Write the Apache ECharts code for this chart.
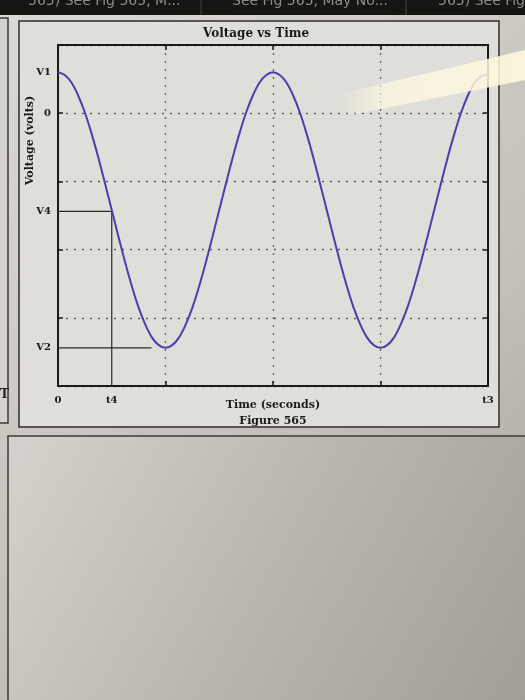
<!DOCTYPE html>
<html>
<head>
<meta charset="utf-8">
<script src="https://cdn.jsdelivr.net/npm/echarts@6/dist/echarts.min.js"></script>
<style>
html,body{margin:0;padding:0;background:#cfcdc7;}
#chart{width:525px;height:700px;}
</style>
</head>
<body>
<div id="chart"></div>
<script>
// ---- data ----
const timeValues = [
  0,0.0625,0.125,0.1875,0.25,0.3125,0.375,0.4375,0.5,0.5625,0.625,0.6875,0.75,0.8125,0.875,0.9375,
  1,1.0625,1.125,1.1875,1.25,1.3125,1.375,1.4375,1.5,1.5625,1.625,1.6875,1.75,1.8125,1.875,1.9375,
  2,2.0625,2.125,2.1875,2.25,2.3125,2.375,2.4375,2.5,2.5625,2.625,2.6875,2.75,2.8125,2.875,2.9375,
  3,3.0625,3.125,3.1875,3.25,3.3125,3.375,3.4375,3.5,3.5625,3.625,3.6875,3.75,3.8125,3.875,3.9375,4];
const voltageValues = [
  0.60,0.56,0.45,0.26,0.01,-0.30,-0.65,-1.03,-1.42,-1.81,-2.19,-2.54,-2.85,-3.10,-3.29,-3.40,
  -3.44,-3.40,-3.29,-3.10,-2.85,-2.54,-2.19,-1.81,-1.42,-1.03,-0.65,-0.30,0.01,0.26,0.45,0.56,
  0.60,0.56,0.45,0.26,0.01,-0.30,-0.65,-1.03,-1.42,-1.81,-2.19,-2.54,-2.85,-3.10,-3.29,-3.40,
  -3.44,-3.40,-3.29,-3.10,-2.85,-2.54,-2.19,-1.81,-1.42,-1.03,-0.65,-0.30,0.01,0.26,0.45,0.54,0.57];
const yTickValues = [0.60, 0, -1.44, -3.44];
const yTickLabels = ['V1', '0', 'V4', 'V2'];
const xTickValues = [0, 0.5, 4];
const xTickLabels = ['0', 't4', 't3'];
const v4LineX = [0, 0.5];
const v4LineY = [-1.44, -1.44];
const t4LineX = [0.5, 0.5];
const t4LineY = [-1.44, -4];
const v2LineX = [0, 0.87];
const v2LineY = [-3.44, -3.44];

const zip = (a, b) => a.map((v, i) => [v, b[i]]);
const serif = 'DejaVu Serif';
const gridLine = {show: true, lineStyle: {color: '#5e5e5a', type: [2, 6], width: 1.3}};
const axisLineStyle = {show: true, onZero: false, lineStyle: {color: '#1a1a1a', width: 2}};

const chart = echarts.init(document.getElementById('chart'));
chart.setOption({
  backgroundColor: 'transparent',
  animation: false,
  title: {
    text: 'Voltage vs Time',
    left: 198, top: 23,
    textStyle: {fontFamily: serif, fontWeight: 'bold', fontSize: 12, color: '#1a1a1a'}
  },
  graphic: [
    {type: 'rect', z: -10, shape: {x: 0, y: 0, width: 525, height: 700},
      style: {fill: new echarts.graphic.LinearGradient(0, 0, 1, 1, [
        {offset: 0, color: '#dcdad4'}, {offset: 0.6, color: '#c3c0b9'}, {offset: 1, color: '#a4a199'}])}},
    {type: 'rect', z: -9, shape: {x: 8, y: 436, width: 530, height: 300},
      style: {fill: new echarts.graphic.LinearGradient(0, 0, 1, 1, [
        {offset: 0, color: '#d4d2cc'}, {offset: 0.5, color: '#b9b5ad'}, {offset: 1, color: '#a09c95'}]),
        stroke: '#3a3a3a', lineWidth: 1.5}},
    {type: 'rect', z: -9, shape: {x: -10, y: 18, width: 18, height: 405},
      style: {fill: '#d4d2cc', stroke: '#3a3a3a', lineWidth: 1.5}},
    {type: 'text', z: -8, left: 0, top: 389,
      style: {text: 'T', font: 'bold 12px "DejaVu Serif"', fill: '#222'}},
    {type: 'rect', z: -9, shape: {x: 19, y: 21, width: 480, height: 406},
      style: {fill: '#dfded8', stroke: '#2e2e2e', lineWidth: 1.5}},
    {type: 'rect', z: -8, shape: {x: 0, y: 0, width: 525, height: 15},
      style: {fill: '#151513'}},
    {type: 'line', z: -7, shape: {x1: 201, y1: 0, x2: 201, y2: 15}, style: {stroke: '#444', lineWidth: 1}},
    {type: 'line', z: -7, shape: {x1: 406, y1: 0, x2: 406, y2: 15}, style: {stroke: '#444', lineWidth: 1}},
    {type: 'text', z: -7, left: 28, top: -6,
      style: {text: '565) See Fig 565, M...', font: '14px "DejaVu Sans"', fill: '#8d8c88'}},
    {type: 'text', z: -7, left: 232, top: -6,
      style: {text: 'See Fig 565, May No...', font: '14px "DejaVu Sans"', fill: '#8d8c88'}},
    {type: 'text', z: -7, left: 438, top: -6,
      style: {text: '565) See Fig', font: '14px "DejaVu Sans"', fill: '#8d8c88'}},
    {type: 'polygon', z: 100, silent: true,
      shape: {points: [[340, 94], [525, 50], [525, 80], [346, 116]]},
      style: {fill: new echarts.graphic.LinearGradient(0, 0, 1, 0, [
        {offset: 0, color: 'rgba(255,252,230,0)'}, {offset: 0.25, color: 'rgba(255,250,225,0.7)'},
        {offset: 1, color: 'rgba(255,248,220,0.9)'}])}}
  ],
  grid: {left: 58, right: 37, top: 45, bottom: 314},
  xAxis: [
    {type: 'value', position: 'bottom', min: 0, max: 4, interval: 1,
      axisLine: axisLineStyle,
      axisTick: {show: true, inside: true, length: 5, lineStyle: {color: '#1a1a1a', width: 1.5}},
      splitLine: gridLine,
      axisLabel: {customValues: xTickValues, margin: 9,
        formatter: v => xTickLabels[xTickValues.indexOf(v)] ?? '',
        fontFamily: serif, fontWeight: 'bold', fontSize: 10, color: '#1a1a1a'},
      name: 'Time (seconds)\nFigure 565', nameLocation: 'middle', nameGap: 11, nameMoveOverlap: false,
      nameTextStyle: {fontFamily: serif, fontWeight: 'bold', fontSize: 11, color: '#1a1a1a', lineHeight: 16}},
    {type: 'value', position: 'top', min: 0, max: 4, interval: 1,
      axisLine: axisLineStyle,
      axisTick: {show: true, inside: true, length: 5, lineStyle: {color: '#1a1a1a', width: 1.5}},
      splitLine: {show: false}, axisLabel: {show: false}}
  ],
  yAxis: [
    {type: 'value', position: 'left', min: -4, max: 1, interval: 1,
      axisLine: axisLineStyle,
      axisTick: {show: true, inside: true, length: 5, lineStyle: {color: '#1a1a1a', width: 1.5}},
      splitLine: gridLine,
      axisLabel: {customValues: yTickValues, margin: 7,
        formatter: v => yTickLabels[yTickValues.indexOf(v)] ?? '',
        fontFamily: serif, fontWeight: 'bold', fontSize: 10, color: '#1a1a1a'},
      name: 'Voltage (volts)', nameLocation: 'middle', nameGap: 22, nameMoveOverlap: false,
      nameTextStyle: {fontFamily: serif, fontWeight: 'bold', fontSize: 11, color: '#1a1a1a',
        padding: [0, 0, 0, 150]}},
    {type: 'value', position: 'right', min: -4, max: 1, interval: 1,
      axisLine: axisLineStyle,
      axisTick: {show: true, inside: true, length: 5, lineStyle: {color: '#1a1a1a', width: 1.5}},
      splitLine: {show: false}, axisLabel: {show: false}}
  ],
  series: [
    {type: 'line', data: zip(v4LineX, v4LineY), symbol: 'none', lineStyle: {color: '#2a2a2a', width: 1.2}},
    {type: 'line', data: zip(t4LineX, t4LineY), symbol: 'none', lineStyle: {color: '#2a2a2a', width: 1.2}},
    {type: 'line', data: zip(v2LineX, v2LineY), symbol: 'none', lineStyle: {color: '#2a2a2a', width: 1.2}},
    {type: 'line', data: zip(timeValues, voltageValues), smooth: 0.3, symbol: 'none',
      lineStyle: {color: '#4a3fae', width: 2}}
  ]
});
</script>
</body>
</html>
